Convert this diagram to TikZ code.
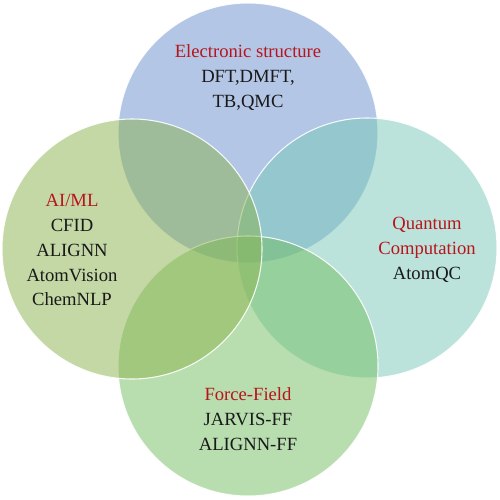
\documentclass[tikz,border=0pt]{standalone}
\usepackage{fontspec}
\setmainfont{Liberation Serif}

\definecolor{bleuES}{RGB}{105,143,207}
\definecolor{vertIA}{RGB}{139,179,77}
\definecolor{turqQC}{RGB}{121,201,185}
\definecolor{vertFF}{RGB}{115,191,97}
\definecolor{rougeTitre}{RGB}{184,20,27}

\tikzset{
  cercle/.style={draw=white,line width=0.6pt,fill opacity=0.5,draw opacity=0.9},
  bloc/.style={align=center,font=\fontsize{10.6}{14.2}\selectfont,text=black!90}
}

\begin{document}
\begin{tikzpicture}

\useasboundingbox
(0,0)
rectangle
(10,9.98);

% Cercles
\fill[white]
(0,0)
rectangle
(10,9.98);

\filldraw[cercle,fill=bleuES]
(4.96,7.32)
circle
(2.6);

\filldraw[cercle,fill=turqQC]
(7.34,5.02)
circle
(2.6);

\filldraw[cercle,fill=vertFF]
(4.96,2.66)
circle
(2.6);

\filldraw[cercle,fill=vertIA]
(2.64,5.0)
circle
(2.6);

% Textes
\node[bloc] (es)
at (4.96,8.42)
{\textcolor{rougeTitre}{Electronic structure}\\DFT,DMFT,\\TB,QMC};

\node[bloc] (ia)
at (1.44,4.98)
{\textcolor{rougeTitre}{AI/ML}\\CFID\\ALIGNN\\AtomVision\\ChemNLP};

\node[bloc] (qc)
at (8.54,4.98)
{\textcolor{rougeTitre}{Quantum}\\\textcolor{rougeTitre}{Computation}\\AtomQC};

\node[bloc] (ff)
at (4.96,1.6)
{\textcolor{rougeTitre}{Force-Field}\\JARVIS-FF\\ALIGNN-FF};

\end{tikzpicture}
\end{document}
